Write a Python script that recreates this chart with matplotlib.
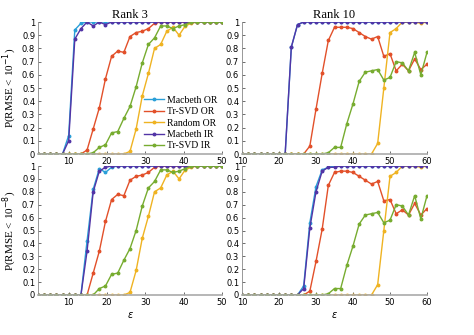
import numpy as np
import matplotlib
matplotlib.use("Agg")
import matplotlib.pyplot as plt

# ---------------- data ----------------
eps_r3 = np.linspace(2, 50, 31)
eps_r10 = np.linspace(10, 60, 31)

series_names = ["Macbeth OR", "Tr-SVD OR", "Random OR", "Macbeth IR", "Tr-SVD IR"]

# Rank 3, threshold 1e-1
r3_t1_macbeth_or = [0, 0, 0, 0, 0, 0.14, 0.94, 0.99, 1, 1, 1, 1, 1, 1, 1, 1, 1, 1, 1, 1, 1, 1, 1, 1, 1, 1, 1, 1, 1, 1, 1]
r3_t1_trsvd_or = [0, 0, 0, 0, 0, 0, 0, 0, 0.03, 0.19, 0.35, 0.57, 0.74, 0.78, 0.77, 0.89, 0.92, 0.93, 0.95, 0.99, 1, 1, 1, 1, 1, 1, 1, 1, 1, 1, 1]
r3_t1_random_or = [0, 0, 0, 0, 0, 0, 0, 0, 0, 0, 0, 0, 0, 0, 0, 0.02, 0.19, 0.44, 0.61, 0.80, 0.83, 0.93, 0.96, 0.90, 0.97, 0.99, 1, 1, 1, 1, 1]
r3_t1_macbeth_ir = [0, 0, 0, 0, 0, 0.10, 0.87, 0.95, 1, 0.97, 1, 0.98, 1, 1, 1, 1, 1, 1, 1, 1, 1, 1, 1, 1, 1, 1, 1, 1, 1, 1, 1]
r3_t1_trsvd_ir = [0, 0, 0, 0, 0, 0, 0, 0, 0, 0.01, 0.05, 0.07, 0.16, 0.17, 0.27, 0.36, 0.51, 0.69, 0.83, 0.88, 0.97, 0.97, 0.95, 0.97, 0.98, 1, 1, 1, 1, 1, 1]

# Rank 3, threshold 1e-8
r3_t8_macbeth_or = [0, 0, 0, 0, 0, 0, 0, 0, 0.42, 0.82, 0.98, 0.95, 0.99, 1, 1, 1, 1, 1, 1, 1, 1, 1, 1, 1, 1, 1, 1, 1, 1, 1, 1]
r3_t8_trsvd_or = [0, 0, 0, 0, 0, 0, 0, 0, 0, 0.17, 0.34, 0.57, 0.74, 0.78, 0.77, 0.89, 0.92, 0.93, 0.95, 0.99, 1, 1, 1, 1, 1, 1, 1, 1, 1, 1, 1]
r3_t8_random_or = [0, 0, 0, 0, 0, 0, 0, 0, 0, 0, 0, 0, 0, 0, 0, 0.02, 0.19, 0.44, 0.61, 0.80, 0.83, 0.93, 0.96, 0.90, 0.97, 0.99, 1, 1, 1, 1, 1]
r3_t8_macbeth_ir = [0, 0, 0, 0, 0, 0, 0, 0, 0.34, 0.80, 0.96, 0.99, 1, 1, 1, 1, 1, 1, 1, 1, 1, 1, 1, 1, 1, 1, 1, 1, 1, 1, 1]
r3_t8_trsvd_ir = [0, 0, 0, 0, 0, 0, 0, 0, 0, 0, 0.05, 0.07, 0.16, 0.17, 0.27, 0.36, 0.50, 0.69, 0.83, 0.88, 0.97, 0.97, 0.95, 0.96, 0.98, 1, 1, 1, 1, 1, 1]

# Rank 10, threshold 1e-1
r10_t1_macbeth_or = [0, 0, 0, 0, 0, 0, 0, 0, 0.81, 0.98, 1, 1, 1, 1, 1, 1, 1, 1, 1, 1, 1, 1, 1, 1, 1, 1, 1, 1, 1, 1, 1]
r10_t1_trsvd_or = [0, 0, 0, 0, 0, 0, 0, 0, 0, 0, 0, 0.06, 0.34, 0.61, 0.86, 0.96, 0.96, 0.96, 0.95, 0.92, 0.89, 0.87, 0.89, 0.74, 0.76, 0.63, 0.68, 0.63, 0.72, 0.64, 0.68]
r10_t1_random_or = [0, 0, 0, 0, 0, 0, 0, 0, 0, 0, 0, 0, 0, 0, 0, 0, 0, 0, 0, 0, 0, 0, 0.08, 0.50, 0.92, 0.95, 1, 1, 1, 0.99, 1]
r10_t1_macbeth_ir = [0, 0, 0, 0, 0, 0, 0, 0, 0.81, 0.98, 1, 1, 1, 1, 1, 1, 1, 1, 1, 1, 1, 1, 1, 1, 1, 1, 1, 1, 1, 1, 1]
r10_t1_trsvd_ir = [0, 0, 0, 0, 0, 0, 0, 0, 0, 0, 0, 0, 0, 0, 0.01, 0.05, 0.05, 0.23, 0.38, 0.55, 0.62, 0.63, 0.64, 0.56, 0.58, 0.70, 0.69, 0.63, 0.77, 0.60, 0.77]

# Rank 10, threshold 1e-8
r10_t8_macbeth_or = [0, 0, 0, 0, 0, 0, 0, 0, 0, 0, 0.07, 0.56, 0.84, 0.97, 0.99, 1, 1, 1, 1, 1, 1, 1, 1, 1, 1, 1, 1, 1, 1, 1, 1]
r10_t8_trsvd_or = [0, 0, 0, 0, 0, 0, 0, 0, 0, 0, 0, 0.03, 0.26, 0.51, 0.85, 0.95, 0.96, 0.96, 0.95, 0.92, 0.89, 0.86, 0.88, 0.73, 0.74, 0.63, 0.66, 0.62, 0.71, 0.62, 0.67]
r10_t8_random_or = [0, 0, 0, 0, 0, 0, 0, 0, 0, 0, 0, 0, 0, 0, 0, 0, 0, 0, 0, 0, 0, 0, 0.08, 0.50, 0.92, 0.95, 1, 1, 1, 0.99, 1]
r10_t8_macbeth_ir = [0, 0, 0, 0, 0, 0, 0, 0, 0, 0, 0.05, 0.52, 0.80, 0.96, 0.99, 0.99, 1, 1, 1, 1, 1, 1, 1, 1, 1, 1, 1, 1, 1, 1, 1]
r10_t8_trsvd_ir = [0, 0, 0, 0, 0, 0, 0, 0, 0, 0, 0, 0, 0, 0, 0.01, 0.05, 0.05, 0.23, 0.38, 0.55, 0.62, 0.63, 0.64, 0.56, 0.58, 0.70, 0.69, 0.62, 0.77, 0.59, 0.77]

titles = ["Rank 3", "Rank 10"]
ylabels = [r"P(RMSE < 10$^{-1}$)", r"P(RMSE < 10$^{-8}$)"]
xlabel = r"$\epsilon$"

# ---------------- style ----------------
colors = ["#2a9fd8", "#e2502a", "#efb322", "#5234a6", "#77ac30"]
serif = "Liberation Serif"

fig = plt.figure(figsize=(4.74, 3.35), dpi=100)
W, H = 474, 335

def make_ax(x0, x1, y0, y1):
    return fig.add_axes([x0 / W, 1 - y1 / H, (x1 - x0) / W, (y1 - y0) / H])

ax_tl = make_ax(38, 222, 22, 154)
ax_bl = make_ax(38, 222, 166, 295)
ax_tr = make_ax(242, 427, 22, 154)
ax_br = make_ax(242, 427, 166, 295)

panels = [
    (ax_tl, eps_r3, [r3_t1_macbeth_or, r3_t1_trsvd_or, r3_t1_random_or, r3_t1_macbeth_ir, r3_t1_trsvd_ir], (2, 50), [10, 20, 30, 40, 50]),
    (ax_bl, eps_r3, [r3_t8_macbeth_or, r3_t8_trsvd_or, r3_t8_random_or, r3_t8_macbeth_ir, r3_t8_trsvd_ir], (2, 50), [10, 20, 30, 40, 50]),
    (ax_tr, eps_r10, [r10_t1_macbeth_or, r10_t1_trsvd_or, r10_t1_random_or, r10_t1_macbeth_ir, r10_t1_trsvd_ir], (10, 60), [10, 20, 30, 40, 50, 60]),
    (ax_br, eps_r10, [r10_t8_macbeth_or, r10_t8_trsvd_or, r10_t8_random_or, r10_t8_macbeth_ir, r10_t8_trsvd_ir], (10, 60), [10, 20, 30, 40, 50, 60]),
]

for ax, xs, ys_list, xlim, xticks in panels:
    for name, ys, c in zip(series_names, ys_list, colors):
        ax.plot(xs, ys, color=c, lw=1.0, marker="o", ms=1.8, mec=c, mfc=c, label=name)
    ax.set_xlim(*xlim)
    ax.set_ylim(0, 1)
    ax.set_xticks(xticks)
    ax.set_yticks(np.round(np.arange(0, 1.01, 0.1), 1))
    ax.set_yticklabels(["0", "0.1", "0.2", "0.3", "0.4", "0.5", "0.6", "0.7", "0.8", "0.9", "1"])
    ax.tick_params(direction="in", labelsize=6, length=2, width=0.6, colors="#555555", labelcolor="black", pad=2)
    for s in ["top", "right"]:
        ax.spines[s].set_visible(False)
    ax.spines["left"].set_color("#888888")
    ax.spines["bottom"].set_color("#aaaaaa")
    ax.spines["bottom"].set_linewidth(1.2)
    ax.spines["left"].set_linewidth(0.6)

ax_tl.set_title(titles[0], fontsize=9, family=serif, pad=3)
ax_tr.set_title(titles[1], fontsize=9, family=serif, pad=3)
ax_tl.set_ylabel(ylabels[0], fontsize=8, family=serif, labelpad=2)
ax_bl.set_ylabel(ylabels[1], fontsize=8, family=serif, labelpad=2)
ax_bl.set_xlabel(xlabel, fontsize=7, labelpad=2)
ax_br.set_xlabel(xlabel, fontsize=7, labelpad=2)

leg = ax_tl.legend(loc="lower right", bbox_to_anchor=(1.0, -0.01), frameon=False,
                   prop={"family": serif, "size": 7}, handlelength=2.0,
                   handletextpad=0.3, labelspacing=0.25, borderaxespad=0.1)

fig.savefig("out.png", dpi=100)
